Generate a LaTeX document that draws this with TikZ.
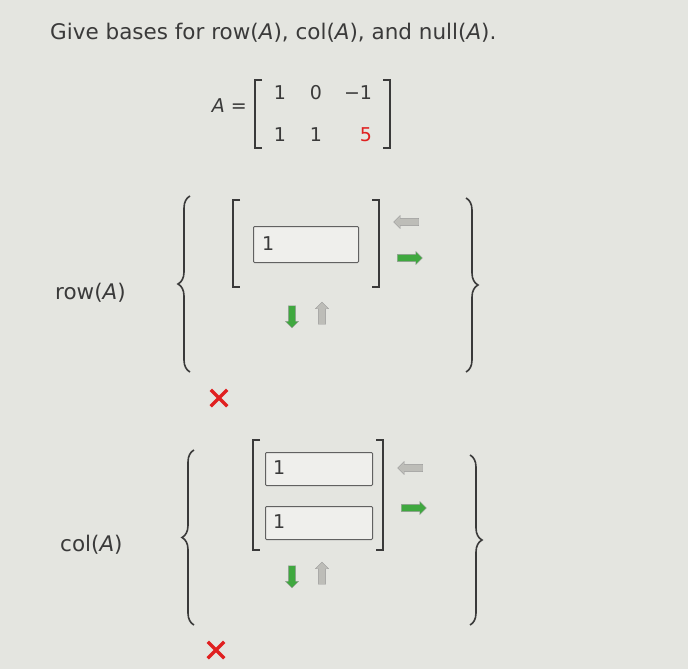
\documentclass[tikz,border=0pt]{standalone}
\usepackage{fontspec}
\setmainfont{DejaVu Sans}
\usetikzlibrary{decorations.pathreplacing,shapes.arrows,shapes.misc}
\definecolor{bg}{HTML}{E4E5E0}
\definecolor{ink}{HTML}{3A3A3A}
\definecolor{grn}{HTML}{3FA83F}
\definecolor{gry}{HTML}{BDBDB8}
\definecolor{redx}{HTML}{E02020}
\tikzset{
 txt/.style={inner sep=0pt,text=ink,font=\fontsize{21.5}{24}\selectfont},
 dig/.style={inner sep=0pt,text=ink,font=\fontsize{19}{22}\selectfont},
 brk/.style={draw=ink,line width=1.1pt},
 brace/.style={draw=ink,line width=1.6pt,decorate,decoration={brace,amplitude=12pt}},
 ibox/.style={draw=ink!80,line width=1pt,rounded corners=1pt,fill=bg!60!white},
 harr/.style={single arrow,minimum height=25pt,minimum width=13pt,single arrow head extend=2.5pt,inner sep=3pt,draw=black!40,line width=0.3pt},
 varr/.style={harr,minimum height=22pt},
 xmark/.style={cross out,draw=redx,line width=3.5pt,minimum size=13pt,inner sep=0pt}
}
\begin{document}
\begin{tikzpicture}[x=1pt,y=-1pt]
\fill[bg] (0,0) rectangle (688,669);
\useasboundingbox (0,0) rectangle (688,669);
\node[txt,anchor=west] (title) at (50,33) {Give bases for row(\textit{A}), col(\textit{A}), and null(\textit{A}).};
% matrix A
\node[dig,anchor=east] (Aeq) at (247,106) {\textit{A} =};
\draw[brk] (262,80) -- (255,80) -- (255,148) -- (262,148);
\draw[brk] (383,80) -- (390,80) -- (390,148) -- (383,148);
\node[dig] (a11) at (280,93) {1};
\node[dig] (a12) at (316,93) {0};
\node[dig] (a13) at (358,93) {−1};
\node[dig] (a21) at (280,135) {1};
\node[dig] (a22) at (316,135) {1};
\node[dig,text=redx] (a23) at (366,135) {5};
% row(A)
\node[txt,anchor=west] (rowl) at (55,293) {row(\textit{A})};
\draw[brace] (190,372) -- (190,196);
\draw[brace] (466,198) -- (466,372);
\draw[brk] (240,200) -- (233,200) -- (233,287) -- (240,287);
\draw[brk] (372,200) -- (379,200) -- (379,287) -- (372,287);
\node[ibox,minimum width=105pt,minimum height=36pt,anchor=north west] (rb) at (253,226) {};
\node[dig,anchor=west] (rb1) at (262,244) {1};
\node[harr,fill=gry,shape border rotate=180] (rlft) at (408,222) {};
\node[harr,fill=grn] (rrgt) at (408,258) {};
\node[varr,fill=grn,shape border rotate=270] (rdn) at (292,315) {};
\node[varr,fill=gry,shape border rotate=90] (rup) at (322,315) {};
\node[xmark] (rx) at (219,398) {};
% col(A)
\node[txt,anchor=west] (coll) at (60,545) {col(\textit{A})};
\draw[brace] (194,625) -- (194,450);
\draw[brace] (470,455) -- (470,625);
\draw[brk] (260,440) -- (253,440) -- (253,550) -- (260,550);
\draw[brk] (376,440) -- (383,440) -- (383,550) -- (376,550);
\node[ibox,minimum width=107pt,minimum height=33pt,anchor=north west] (cb1) at (265,452) {};
\node[dig,anchor=west] (cb1t) at (273,468) {1};
\node[ibox,minimum width=107pt,minimum height=33pt,anchor=north west] (cb2) at (265,506) {};
\node[dig,anchor=west] (cb2t) at (273,522) {1};
\node[harr,fill=gry,shape border rotate=180] (clft) at (412,468) {};
\node[harr,fill=grn] (crgt) at (412,508) {};
\node[varr,fill=grn,shape border rotate=270] (cdn) at (292,575) {};
\node[varr,fill=gry,shape border rotate=90] (cup) at (322,575) {};
\node[xmark] (cx) at (216,650) {};
\end{tikzpicture}
\end{document}
